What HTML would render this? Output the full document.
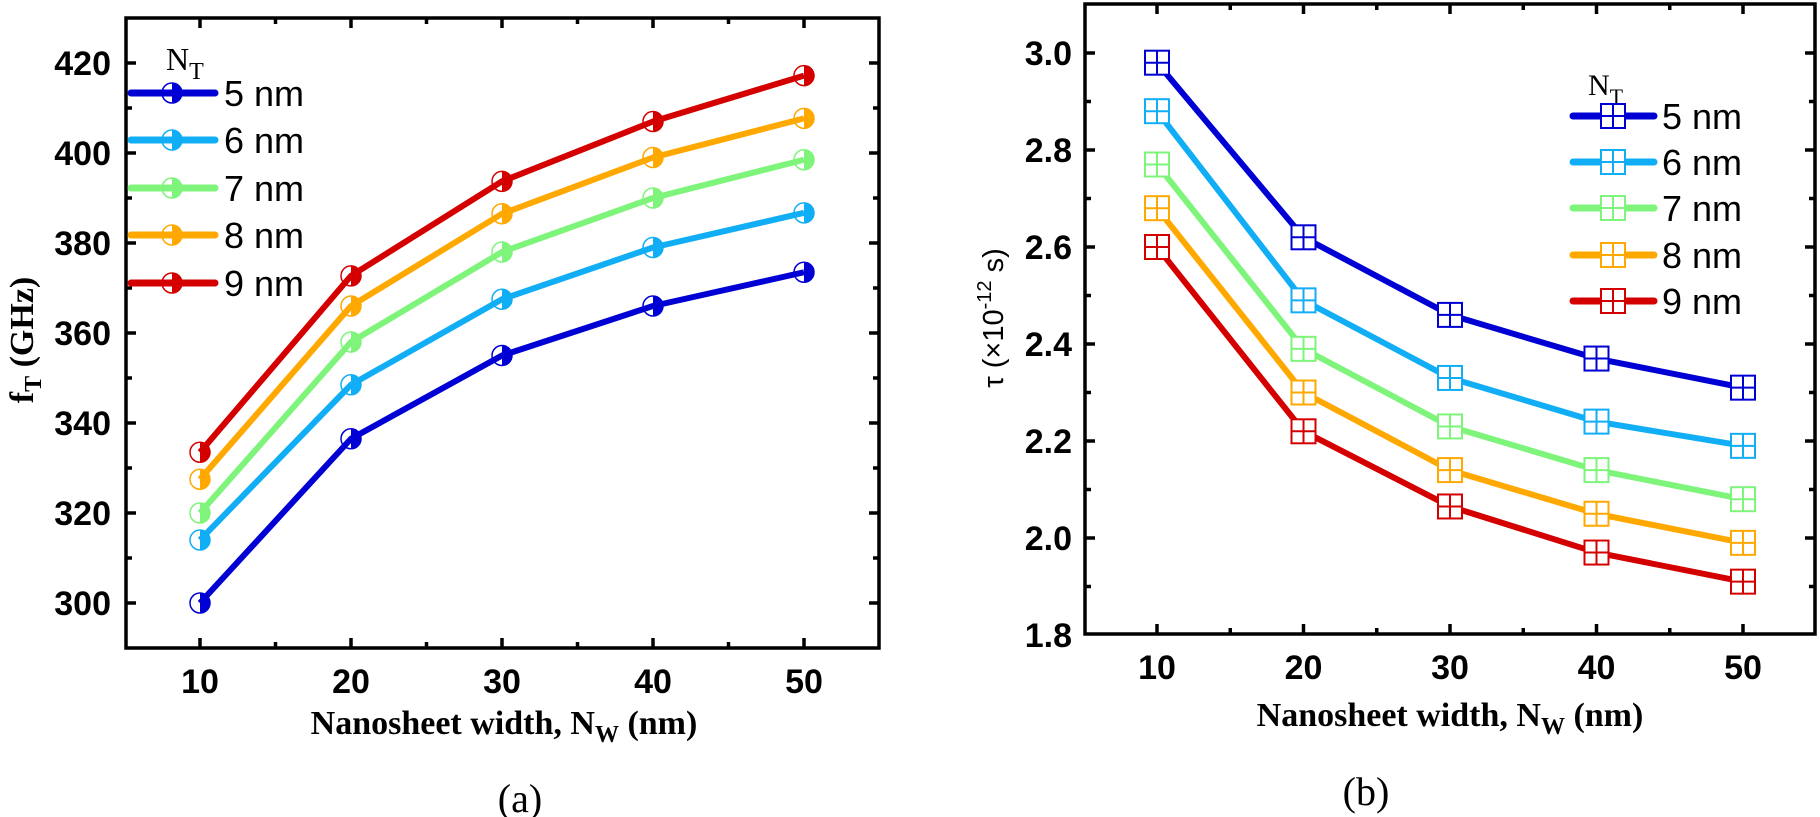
<!DOCTYPE html>
<html><head><meta charset="utf-8"><style>
html,body{margin:0;padding:0;background:#fff;}
svg{display:block;}
</style></head><body>
<svg id="s" width="1820" height="817" xmlns="http://www.w3.org/2000/svg">
</svg>
<script>
const S=document.getElementById('s');const NS='http://www.w3.org/2000/svg';
function el(t,a,txt){const e=document.createElementNS(NS,t);for(const k in a)e.setAttribute(k,a[k]);if(txt!==undefined)e.textContent=txt;S.appendChild(e);return e;}
const cols=['#0000d4','#12aef5','#7ef57a','#ffa800','#d40000'];
const xs=[10,20,30,40,50];
const LX=v=>200+(v-10)*15.1, LY=f=>603-(f-300)*4.5;
const fT=[[300,336.5,355,366,373.5],[314,348.5,367.5,379,386.7],[320,358,378,390,398.5],[327.5,366,386.5,399,407.7],[333.5,372.7,393.7,407,417.2]];
const RX=v=>1157+(v-10)*14.65, RY=t=>53+(3.0-t)*485;
const tau=[[2.98,2.62,2.46,2.37,2.31],[2.88,2.49,2.33,2.24,2.19],[2.77,2.39,2.23,2.14,2.08],[2.68,2.30,2.14,2.05,1.99],[2.60,2.22,2.065,1.97,1.91]];
function frame(x0,y0,x1,y1){el('rect',{x:x0,y:y0,width:x1-x0,height:y1-y0,fill:'none',stroke:'#000','stroke-width':3.5});}
function tick(x,y,dx,dy){el('line',{x1:x,y1:y,x2:x+dx,y2:y+dy,stroke:'#000','stroke-width':3.5});}
function circ(x,y,c){
  el('path',{d:`M${x},${y-10} A10,10 0 0,1 ${x},${y+10} Z`,fill:c});
  el('circle',{cx:x,cy:y,r:10,fill:'none',stroke:c,'stroke-width':1.5});
}
function sq(x,y,c){
  el('rect',{x:x-12,y:y-12,width:24,height:24,fill:'#fff',stroke:c,'stroke-width':2});
  el('line',{x1:x,y1:y-12,x2:x,y2:y+12,stroke:c,'stroke-width':2});
  el('line',{x1:x-12,y1:y,x2:x+12,y2:y,stroke:c,'stroke-width':2});
}
const L={x0:126,y0:18,x1:879,y1:648};
for(let v=5;v<=55;v+=5){const x=LX(v);if(x<=L.x0+1||x>=L.x1-1)continue;const m=(v%10==0)?10:6;tick(x,L.y1,0,-m);tick(x,L.y0,0,m);}
for(let f=290;f<=430;f+=10){const y=LY(f);if(y>=L.y1-1||y<=L.y0+1)continue;const m=(f%20==0)?10:6;tick(L.x0,y,m,0);tick(L.x1,y,-m,0);}
frame(L.x0,L.y0,L.x1,L.y1);
const tf='font-family:"Liberation Sans",Arial,sans-serif;font-weight:bold;font-size:34px';
for(let f=300;f<=420;f+=20)el('text',{x:111,y:LY(f)+12,'text-anchor':'end',style:tf},f);
xs.forEach(v=>el('text',{x:LX(v),y:693,'text-anchor':'middle',style:tf},v));
for(let i=0;i<5;i++){el('polyline',{points:xs.map((v,j)=>LX(v)+','+LY(fT[i][j])).join(' '),fill:'none',stroke:cols[i],'stroke-width':6,'stroke-linejoin':'round'});}
for(let i=0;i<5;i++)xs.forEach((v,j)=>circ(LX(v),LY(fT[i][j]),cols[i]));
el('text',{x:166,y:70,style:'font-family:"Liberation Serif",serif;font-size:32px'}).innerHTML='N<tspan font-size="24" dy="9">T</tspan>';
const lyL=[93,140,188,235,283];
for(let i=0;i<5;i++){el('line',{x1:131,y1:lyL[i],x2:215,y2:lyL[i],stroke:cols[i],'stroke-width':7,'stroke-linecap':'round'});circ(172,lyL[i],cols[i]);
el('text',{x:224,y:lyL[i]+13,style:'font-family:"Liberation Sans",Arial,sans-serif;font-size:36px'},(i+5)+' nm');}
el('text',{x:0,y:0,transform:'translate(33,340) rotate(-90)','text-anchor':'middle',style:'font-family:"Liberation Serif",serif;font-weight:bold;font-size:34px'}).innerHTML='f<tspan font-size="24" dy="8">T</tspan><tspan dy="-8"> (GHz)</tspan>';
el('text',{x:504,y:734,'text-anchor':'middle',style:'font-family:"Liberation Serif",serif;font-weight:bold;font-size:34px'}).innerHTML='Nanosheet width, N<tspan font-size="24" dy="8">W</tspan><tspan dy="-8"> (nm)</tspan>';
el('text',{x:520,y:812,'text-anchor':'middle',style:'font-family:"Liberation Serif",serif;font-size:40px'},'(a)');
const R={x0:1085,y0:4,x1:1815,y1:634};
for(let v=5;v<=55;v+=5){const x=RX(v);if(x<=R.x0+1||x>=R.x1-1)continue;const m=(v%10==0)?10:6;tick(x,R.y1,0,-m);tick(x,R.y0,0,m);}
for(let k=18;k<=31;k++){const t=k/10;const y=RY(t);if(y>=R.y1-1||y<=R.y0+1)continue;const m=(k%2==0)?10:6;tick(R.x0,y,m,0);tick(R.x1,y,-m,0);}
frame(R.x0,R.y0,R.x1,R.y1);
for(let k=18;k<=30;k+=2)el('text',{x:1072,y:RY(k/10)+12,'text-anchor':'end',style:tf},(k/10).toFixed(1));
xs.forEach(v=>el('text',{x:RX(v),y:679,'text-anchor':'middle',style:tf},v));
for(let i=0;i<5;i++){el('polyline',{points:xs.map((v,j)=>RX(v)+','+RY(tau[i][j])).join(' '),fill:'none',stroke:cols[i],'stroke-width':6,'stroke-linejoin':'round'});}
for(let i=0;i<5;i++)xs.forEach((v,j)=>sq(RX(v),RY(tau[i][j]),cols[i]));
el('text',{x:1588,y:95,style:'font-family:"Liberation Serif",serif;font-size:30px'}).innerHTML='N<tspan font-size="22" dy="9">T</tspan>';
const lyR=[116,162,208,255,301];
for(let i=0;i<5;i++){el('line',{x1:1573,y1:lyR[i],x2:1654,y2:lyR[i],stroke:cols[i],'stroke-width':7,'stroke-linecap':'round'});sq(1613,lyR[i],cols[i]);
el('text',{x:1662,y:lyR[i]+13,style:'font-family:"Liberation Sans",Arial,sans-serif;font-size:36px'},(i+5)+' nm');}
el('text',{x:0,y:0,transform:'translate(1003,318) rotate(-90)','text-anchor':'middle',style:'font-family:"Liberation Sans",Arial,sans-serif;font-size:29px'}).innerHTML='τ (×10<tspan font-size="20" dy="-12">-12</tspan><tspan dy="12"> s)</tspan>';
el('text',{x:1450,y:726,'text-anchor':'middle',style:'font-family:"Liberation Serif",serif;font-weight:bold;font-size:34px'}).innerHTML='Nanosheet width, N<tspan font-size="24" dy="8">W</tspan><tspan dy="-8"> (nm)</tspan>';
el('text',{x:1366,y:805,'text-anchor':'middle',style:'font-family:"Liberation Serif",serif;font-size:40px'},'(b)');
</script>
</body></html>
